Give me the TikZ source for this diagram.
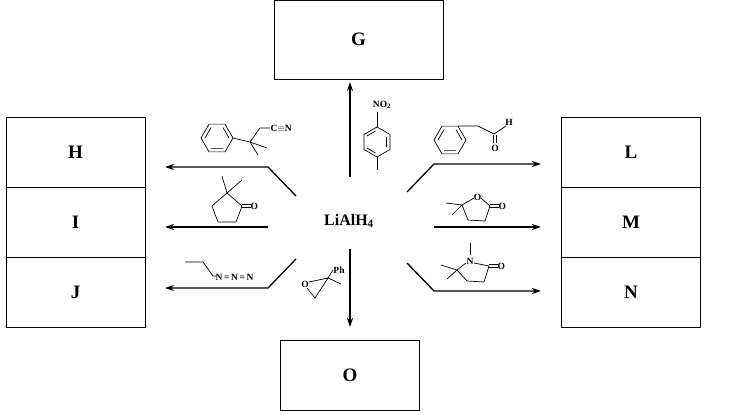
\documentclass[tikz,border=0pt]{standalone}
\usepackage{fontspec}
\setmainfont{Liberation Serif}
\usetikzlibrary{arrows.meta}
\begin{document}
\begin{tikzpicture}[x=1pt,y=-1pt,
 box/.style={draw,line width=0.8pt,minimum width=139pt,minimum height=70pt,font=\bfseries\fontsize{19}{19}\selectfont,inner sep=0pt},
 arr/.style={line width=1.3pt,-{Stealth[length=9pt,width=6pt]}},
 bd/.style={line width=0.7pt},
 atm/.style={font=\bfseries\fontsize{9.5}{9.5}\selectfont,inner sep=0.5pt}]
\useasboundingbox (0,0) rectangle (732,415);
\node[box,minimum width=169pt,minimum height=79pt] (G) at (358.5,39.5) {G};
\node[box] (H) at (75.5,152) {H};
\node[box] (I) at (75.5,222) {I};
\node[box] (J) at (75.5,292) {J};
\node[box] (L) at (631,152) {L};
\node[box] (M) at (631,222) {M};
\node[box] (N) at (631,292) {N};
\node[box] (O) at (350,375) {O};
\node[font=\bfseries\fontsize{16}{16}\selectfont] (R) at (349,221) {LiAlH$_{\mathbf 4}$};
\coordinate (u0) at (350,177); \coordinate (u1) at (350,82);
\coordinate (d0) at (350,249); \coordinate (d1) at (350,327);
\draw[arr] (u0) -- (u1);
\draw[arr] (d0) -- (d1);
\coordinate (a0) at (296,196); \coordinate (a1) at (268,167); \coordinate (a2) at (165,167);
\coordinate (b1) at (268,227); \coordinate (b2) at (165,227);
\coordinate (c0) at (296,259); \coordinate (c1) at (268,288); \coordinate (c2) at (165,288);
\coordinate (e0) at (407,192); \coordinate (e1) at (434,164); \coordinate (e2) at (541,164);
\coordinate (f1) at (434,227); \coordinate (f2) at (541,227);
\coordinate (g0) at (407,263); \coordinate (g1) at (434,291); \coordinate (g2) at (541,291);
\draw[arr] (a0) -- (a1) -- (a2);
\draw[arr] (b1) -- (b2);
\draw[arr] (c0) -- (c1) -- (c2);
\draw[arr] (e0) -- (e1) -- (e2);
\draw[arr] (f1) -- (f2);
\draw[arr] (g0) -- (g1) -- (g2);
% nitrile
\draw[bd] (217,138) ++(0:16) -- ++(120:16) -- ++(180:16) -- ++(240:16) -- ++(300:16) -- ++(0:16) -- cycle;
\draw[bd] (217,138) ++(60:12) -- ++(180:12) (217,138) ++(180:12) -- ++(300:12) (217,138) ++(300:12) -- ++(60:12);
\draw[bd] (233,138) -- (250,142) -- (260,128) -- (270,128);
\draw[bd] (250,142) -- (267,148) (250,142) -- (258,155);
\node[atm,anchor=west] at (270,128) {C$\equiv$N};
% nitrotoluene
\draw[bd] (377,127) -- (390,134.5) -- (390,149.5) -- (377,157) -- (364,149.5) -- (364,134.5) -- cycle;
\draw[bd] (386.5,137) -- (386.5,147) (375.5,153) -- (367,148) (367,136) -- (375.5,131);
\draw[bd] (377,127) -- (377,112) (377,157) -- (377,170);
\node[atm] at (382,105) {NO$_{\mathbf 2}$};
% aldehyde
\draw[bd] (450,140) ++(0:16) -- ++(120:16) -- ++(180:16) -- ++(240:16) -- ++(300:16) -- ++(0:16) -- cycle;
\draw[bd] (450,140) ++(60:12) -- ++(180:12) (450,140) ++(180:12) -- ++(300:12) (450,140) ++(300:12) -- ++(60:12);
\draw[bd] (458,126) -- (478,126) -- (494,134) -- (506,126);
\draw[bd] (493,135) -- (493,143) (496,135) -- (496,143);
\node[atm] at (495,148) {O};
\node[atm] at (509,122) {H};
% cyclopentanone
\draw[bd] (227,193) -- (242,206) -- (236,222) -- (218,222) -- (212,206) -- cycle;
\draw[bd] (242,204.5) -- (251,204.5) (242,207.5) -- (251,207.5);
\node[atm,anchor=west] at (250,206) {O};
\draw[bd] (227,193) -- (222,176) (227,193) -- (242,180);
% lactone
\draw[bd] (474,198) -- (462,205) -- (468,220) -- (485,221) -- (490,206) -- (481,198);
\node[atm] at (477.5,197) {O};
\draw[bd] (490,204.5) -- (499,204.5) (490,207.5) -- (499,207.5);
\node[atm,anchor=west] at (498,206) {O};
\draw[bd] (462,205) -- (446,203) (462,205) -- (452,215);
% lactam
\draw[bd] (466,263) -- (457,270) -- (467,281) -- (484,282) -- (489,266) -- (474,263);
\node[atm] at (470,261) {N};
\draw[bd] (470,255) -- (470,243);
\draw[bd] (489,264.5) -- (498,264.5) (489,267.5) -- (498,267.5);
\node[atm,anchor=west] at (497,266) {O};
\draw[bd] (457,270) -- (441,265) (457,270) -- (447,279);
% azide
\draw[bd] (185,262) -- (203,262) -- (213,276) -- (216,276);
\node[atm,anchor=west] at (215,277) {N\,=\,N\,=\,N};
% epoxide
\node[atm] at (305,284) {O};
\draw[bd] (309,282) -- (328,278) -- (315,298) -- (307,288);
\draw[bd] (328,278) -- (341,284) (328,278) -- (333,270);
\node[atm] at (339,270) {Ph};
\end{tikzpicture}
\end{document}
